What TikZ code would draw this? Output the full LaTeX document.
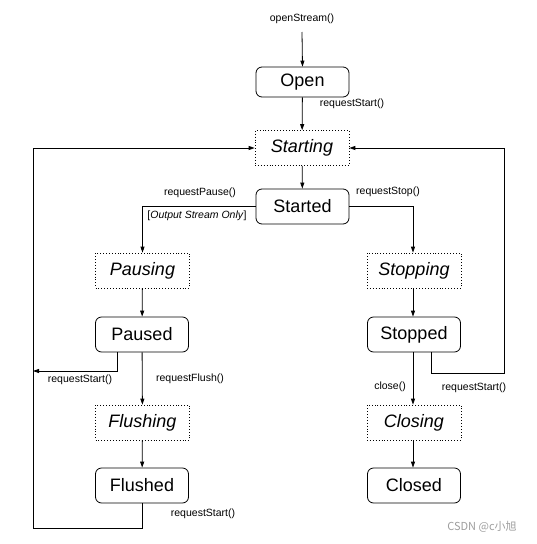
\documentclass[tikz,border=0pt]{standalone}
\usepackage{fontspec}
\setmainfont{Liberation Sans}
\newfontfamily\cjkfont{Noto Sans CJK SC}
\usetikzlibrary{arrows.meta}
\begin{document}
\begin{tikzpicture}[x=1pt,y=-1pt,
  state/.style={draw, line width=0.8pt, rounded corners=6pt, minimum width=93pt, minimum height=35pt, inner sep=0pt, font=\fontsize{18}{20}\selectfont},
  trans/.style={draw, line width=0.7pt, dash pattern=on 0.9pt off 2pt, minimum width=94pt, minimum height=35pt, inner sep=0pt, font=\fontsize{18}{20}\selectfont\itshape},
  lbl/.style={inner sep=0pt, font=\fontsize{10.5}{12}\selectfont},
  arr/.style={draw, line width=0.8pt, -{Triangle[length=6pt,width=4pt]}},
  ln/.style={draw, line width=0.8pt}]
\fill[white] (0,0) rectangle (537,544);
\useasboundingbox (0,0) rectangle (537,544);

% states
\node[state, minimum height=30pt] (open) at (302.5,82) {Open};
\node[trans] (starting) at (302,148) {Starting};
\node[state] (started) at (302.5,206.5) {Started};
\node[trans] (pausing) at (142.5,270.5) {Pausing};
\node[state] (paused) at (142,334.5) {Paused};
\node[trans] (flushing) at (142.5,422.5) {Flushing};
\node[state] (flushed) at (142,485.5) {Flushed};
\node[trans] (stopping) at (414,270.5) {Stopping};
\node[state] (stopped) at (414,334.5) {Stopped};
\node[trans] (closing) at (414,422.5) {Closing};
\node[state] (closed) at (414,485.5) {Closed};

% coordinates
\coordinate (os) at (302,32);
\coordinate (pa1) at (117,352);
\coordinate (pa2) at (117,371);
\coordinate (pa3) at (33,371);
\coordinate (fl1) at (142,528);
\coordinate (fl2) at (33,528);
\coordinate (fl3) at (33,148);
\coordinate (st1) at (431,352);
\coordinate (st2) at (431,373);
\coordinate (st3) at (504,373);
\coordinate (st4) at (504,148);
\coordinate (stc) at (413,352);

% labels
\node[lbl] (l_os) at (302,19) {openStream()};
\node[lbl] (l_rs) at (352,104) {requestStart()};
\node[lbl] (l_rp) at (200,193) {requestPause()};
\node[lbl] (l_oso) at (197,216) {[\textit{Output Stream Only}]};
\node[lbl] (l_stop) at (388,192) {requestStop()};
\node[lbl] (l_rs2) at (80,380) {requestStart()};
\node[lbl] (l_rf) at (190,379) {requestFlush()};
\node[lbl] (l_cl) at (390,387) {close()};
\node[lbl] (l_rs3) at (474,388) {requestStart()};
\node[lbl] (l_rs4) at (203,514) {requestStart()};
\node[inner sep=0pt, text=black!38, font=\cjkfont\fontsize{11}{12}\selectfont] (wm) at (482,527) {CSDN @c小旭};

% connectors
\path[arr] (os) -- (open.north);
\path[arr] (open) -- (starting);
\path[arr] (starting) -- (started);
\path[arr] (started.west) -| (pausing.north);
\path[arr] (started.east) -| ([xshift=-1pt]stopping.north);
\path[arr] (pausing) -- (paused);
\path[arr] ([xshift=-1pt]stopping.south) -- ([xshift=-1pt]stopped.north);
\path[arr] (paused) -- (flushing);
\path[arr] (pa1) -- (pa2) -- (pa3);
\path[arr] (flushing) -- (flushed);
\path[arr] (flushed.south) -- (fl1) -- (fl2) -- (fl3) -- (starting.west);
\path[arr] (st1) -- (st2) -- (st3) -- (st4) -- (starting.east);
\path[arr] (stc) -- ([xshift=-1pt]closing.north);
\path[arr] ([xshift=-1pt]closing.south) -- ([xshift=-1pt]closed.north);
\end{tikzpicture}
\end{document}
